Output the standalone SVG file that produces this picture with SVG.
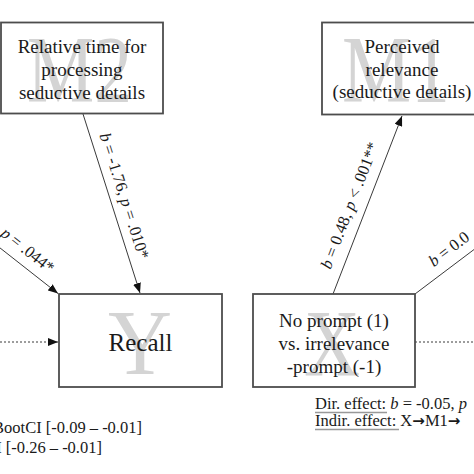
<svg xmlns="http://www.w3.org/2000/svg" width="474" height="474" viewBox="0 0 474 474">
<defs>
<style>
.box{fill:#fff;stroke:#4d4d4d;stroke-width:1.8}
.wm{font-family:"Liberation Serif","Times New Roman",serif;fill:#d4d4d4}
.t{font-family:"Liberation Serif","Times New Roman",serif;fill:#1a1a1a;font-size:19px;text-anchor:middle}
.lbl{font-family:"Liberation Serif","Times New Roman",serif;fill:#1a1a1a;font-size:16.5px}
.note{font-family:"Liberation Serif","Times New Roman",serif;fill:#1a1a1a;font-size:16.5px}
.it{font-style:italic}
.arr{font-family:"DejaVu Sans",sans-serif;font-weight:bold;font-size:15px}
.edge{stroke:#3a3a3a;stroke-width:1;fill:none}
.dot{stroke:#3a3a3a;stroke-width:1;fill:none;stroke-dasharray:2 2}
.ul{stroke:#999;stroke-width:1.6}
</style>
<marker id="ah" markerUnits="userSpaceOnUse" markerWidth="10" markerHeight="8" refX="10" refY="4" orient="auto">
<path d="M0,0 L10,4 L0,8 z" fill="#111"/>
</marker>
</defs>
<rect width="474" height="474" fill="#fff"/>

<g id="connectors">
<line class="edge" x1="83" y1="114" x2="140" y2="293" marker-end="url(#ah)"/>
<line class="edge" x1="333" y1="294" x2="402" y2="116" marker-end="url(#ah)"/>
<line class="edge" x1="-5" y1="244" x2="58" y2="293.5" marker-end="url(#ah)"/>
<line class="edge" x1="415" y1="294" x2="480" y2="245"/>
<line class="dot" x1="0" y1="342" x2="58" y2="342" marker-end="url(#ah)"/>
<line class="dot" x1="415" y1="342" x2="474" y2="342"/>
<text class="lbl" text-anchor="middle" transform="translate(119.2,197.5) rotate(72.4)"><tspan class="it">b</tspan> = -1.76, <tspan class="it">p</tspan> = .010*</text>
<text class="lbl" text-anchor="middle" transform="translate(354.7,207.4) rotate(-68.9)"><tspan class="it">b</tspan> = 0.48, <tspan class="it">p</tspan> &lt; .001**</text>
<text class="lbl" text-anchor="end" transform="translate(49,274) rotate(38.4)"><tspan class="it">p</tspan> = .044*</text>
<text class="lbl" text-anchor="start" transform="translate(433.7,267.3) rotate(-37.2)"><tspan class="it">b</tspan> = 0.0</text>
</g>

<g id="node-m2">
<rect class="box" x="1" y="22.5" width="162" height="91"/>
<text class="wm" x="27" y="102" font-size="95" textLength="105" lengthAdjust="spacingAndGlyphs">M2</text>
<text class="t" x="82" y="53">Relative time for</text>
<text class="t" x="82" y="76">processing</text>
<text class="t" x="82" y="99">seductive details</text>
</g>

<g id="node-m1">
<rect class="box" x="322" y="22.5" width="162" height="92"/>
<text class="wm" x="342" y="102" font-size="95" textLength="108" lengthAdjust="spacingAndGlyphs">M1</text>
<text class="t" x="402" y="53">Perceived</text>
<text class="t" x="402" y="76">relevance</text>
<text class="t" x="402" y="98">(seductive details)</text>
</g>

<g id="node-y">
<rect class="box" x="59" y="294" width="163" height="93"/>
<text class="wm" x="108" y="374" font-size="94" textLength="64" lengthAdjust="spacingAndGlyphs">Y</text>
<text class="t" x="140.5" y="351" style="font-size:25px">Recall</text>
</g>

<g id="node-x">
<rect class="box" x="253" y="294" width="162" height="93"/>
<text class="wm" x="304" y="376" font-size="96" textLength="56" lengthAdjust="spacingAndGlyphs">X</text>
<text class="t" x="334" y="327">No prompt (1)</text>
<text class="t" x="334" y="350">vs. irrelevance</text>
<text class="t" x="334" y="373">-prompt (-1)</text>
</g>

<g id="notes">
<text class="note" x="142" y="433" text-anchor="end">BootCI [-0.09 – -0.01]</text>
<text class="note" x="102" y="453" text-anchor="end">CI [-0.26 – -0.01]</text>
<text class="note" x="315" y="409">Dir. effect: <tspan class="it">b</tspan> = -0.05, <tspan class="it">p</tspan></text>
<text class="note" x="315" y="426">Indir. effect: X<tspan class="arr">→</tspan>M1<tspan class="arr">→</tspan></text>
<line class="ul" x1="315" y1="412.5" x2="387" y2="412.5"/>
<line class="ul" x1="315" y1="429.5" x2="399" y2="429.5"/>
</g>
</svg>
